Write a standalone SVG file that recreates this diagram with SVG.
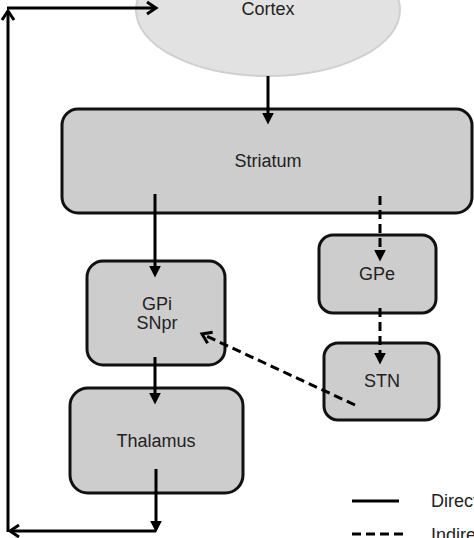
<svg xmlns="http://www.w3.org/2000/svg" width="474" height="538" viewBox="0 0 474 538">
<defs>
<style>
.box{fill:#cdcdcd;stroke:#111;stroke-width:3}
.lbl{font-family:"Liberation Sans",Arial,sans-serif;font-size:18px;fill:#222;text-anchor:middle}
.leg{font-family:"Liberation Sans",Arial,sans-serif;font-size:18px;fill:#222}
.ln{fill:none;stroke:#000;stroke-width:3}
.dash{fill:none;stroke:#000;stroke-width:3;stroke-dasharray:9 5}
</style>
<marker id="tri" markerUnits="userSpaceOnUse" markerWidth="12" markerHeight="12" viewBox="0 0 10 10" refX="2" refY="5" orient="auto">
<path d="M0,0 L10,5 L0,10 z" fill="#000"/>
</marker>
<marker id="chev" markerUnits="userSpaceOnUse" markerWidth="14" markerHeight="16" viewBox="-2 -2 14 16" refX="9" refY="6" orient="auto">
<path d="M0,0 L9,6 L0,12" fill="none" stroke="#000" stroke-width="3"/>
</marker>
</defs>
<rect width="474" height="538" fill="#fff"/>
<g id="cortex">
<ellipse cx="268" cy="10" rx="132" ry="66" fill="#e2e2e2" stroke="#d0d0d0" stroke-width="2"/>
<text class="lbl" x="268" y="15">Cortex</text>
</g>
<g id="striatum">
<rect class="box" x="62" y="109" width="410" height="104" rx="16"/>
<text class="lbl" x="268" y="167">Striatum</text>
</g>
<g id="gpi">
<rect class="box" x="87" y="261" width="138" height="104" rx="16"/>
<text class="lbl" x="157" y="310">GPi</text>
<text class="lbl" x="157" y="329">SNpr</text>
</g>
<g id="gpe">
<rect class="box" x="319" y="235" width="117" height="78" rx="14"/>
<text class="lbl" x="377" y="280">GPe</text>
</g>
<g id="stn">
<rect class="box" x="324" y="343" width="115" height="77" rx="14"/>
<text class="lbl" x="382" y="387">STN</text>
</g>
<g id="thalamus">
<rect class="box" x="70" y="388" width="173" height="105" rx="18"/>
<text class="lbl" x="156" y="447">Thalamus</text>
</g>
<g id="connectors">
<line class="ln" x1="268" y1="76" x2="268" y2="115" marker-end="url(#tri)"/>
<line class="ln" x1="155" y1="194" x2="155" y2="268" marker-end="url(#tri)"/>
<line class="ln" x1="155" y1="357" x2="155" y2="395" marker-end="url(#tri)"/>
<line class="ln" x1="156" y1="469" x2="156" y2="523" marker-end="url(#tri)"/>
<line class="ln" x1="156" y1="531" x2="10" y2="531" marker-end="url(#chev)"/>
<line class="ln" x1="8" y1="532" x2="8" y2="11" marker-end="url(#chev)"/>
<line class="ln" x1="7" y1="8" x2="156" y2="8" marker-end="url(#chev)"/>
<line class="dash" x1="380" y1="196" x2="380" y2="252" marker-end="url(#tri)"/>
<line class="dash" x1="380" y1="308" x2="380" y2="355" marker-end="url(#tri)"/>
<line class="dash" x1="355" y1="405" x2="202" y2="334" marker-end="url(#chev)"/>
</g>
<g id="legend">
<line class="ln" x1="352" y1="501" x2="399" y2="501"/>
<text class="leg" x="431" y="507">Direct</text>
<line class="dash" x1="352" y1="534" x2="406" y2="534"/>
<text class="leg" x="431" y="541">Indirect</text>
</g>
</svg>
